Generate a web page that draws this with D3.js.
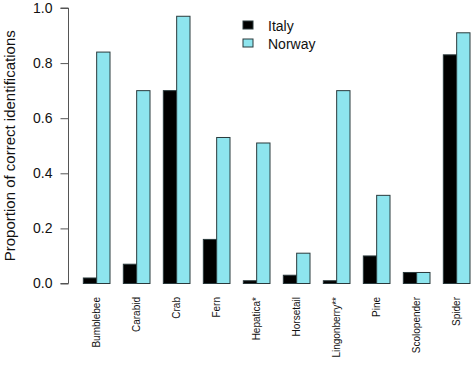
<!DOCTYPE html>
<html>
<head>
<meta charset="utf-8">
<script src="https://cdn.jsdelivr.net/npm/d3@7"></script>
<style>
  body { margin: 0; background: #fff; }
  svg { display: block; font-family: "Liberation Sans", Arial, sans-serif; }
</style>
</head>
<body>
<svg id="chart" width="474" height="366"></svg>
<script>
// categories and values
const categories = ["Bumblebee", "Carabid", "Crab", "Fern", "Hepatica*", "Horsetail",
                    "Lingonberry**", "Pine", "Scolopender", "Spider"];
const italy  = [0.02, 0.07, 0.70, 0.16, 0.01, 0.03, 0.01, 0.10, 0.04, 0.83];
const norway = [0.84, 0.70, 0.97, 0.53, 0.51, 0.11, 0.70, 0.32, 0.04, 0.91];
const yTicks = [0, 0.2, 0.4, 0.6, 0.8, 1.0];
const seriesNames = ["Italy", "Norway"];
const seriesColors = ["#000000", "#8EE5EE"];

const svg = d3.select("#chart");

// R barplot style: bars of width 1, one unit gap before each group
const x = d3.scaleLinear().domain([0, 30]).range([70, 470]);
const y = d3.scaleLinear().domain([0, 1]).range([283.5, 8]);

const series = [italy, norway];

// bars
series.forEach((vals, s) => {
    svg.append("g")
        .selectAll("rect")
        .data(vals)
        .join("rect")
        .attr("x", (d, i) => x(1 + 3 * i + s))
        .attr("width", x(1) - x(0))
        .attr("y", d => y(d))
        .attr("height", d => y(0) - y(d))
        .attr("fill", seriesColors[s])
        .attr("stroke", "#2a3a3c")
        .attr("stroke-width", 1);
});

// y axis
const yAxis = d3.axisLeft(y)
    .tickValues(yTicks)
    .tickFormat(d3.format(".1f"))
    .tickSize(8)
    .tickPadding(8);

const gy = svg.append("g")
    .attr("transform", "translate(68.5,0)")
    .call(yAxis);
gy.select(".domain").attr("stroke", "#555").attr("d", `M-8,${y(1)}H0V${y(0)}H-8`);
gy.selectAll(".tick line").attr("stroke", "#555");
gy.selectAll(".tick text")
    .attr("fill", "#111")
    .style("font-size", "14px")
    .style("font-family", "'Liberation Sans', Arial, sans-serif");

// y axis title
svg.append("text")
    .attr("transform", `translate(15,${(y(0) + y(1)) / 2}) rotate(-90)`)
    .attr("text-anchor", "middle")
    .attr("fill", "#111")
    .style("font-size", "15px")
    .text("Proportion of correct identifications");

// category labels, rotated
svg.append("g")
    .selectAll("text")
    .data(categories)
    .join("text")
    .attr("transform", (d, i) => `translate(${x(2 + 3 * i) + 3.5},297) rotate(-90)`)
    .attr("text-anchor", "end")
    .attr("fill", "#111")
    .style("font-size", "10px")
    .text(d => d);

// legend
const legend = svg.append("g").attr("transform", "translate(243,21)");
seriesNames.forEach((name, i) => {
    legend.append("rect")
        .attr("x", 0)
        .attr("y", i * 18)
        .attr("width", 10)
        .attr("height", 8)
        .attr("fill", seriesColors[i])
        .attr("stroke", "#2a3a3c");
    legend.append("text")
        .attr("x", 25)
        .attr("y", i * 18 + 9.5)
        .attr("fill", "#111")
        .style("font-size", "14px")
        .text(name);
});
</script>
</body>
</html>
